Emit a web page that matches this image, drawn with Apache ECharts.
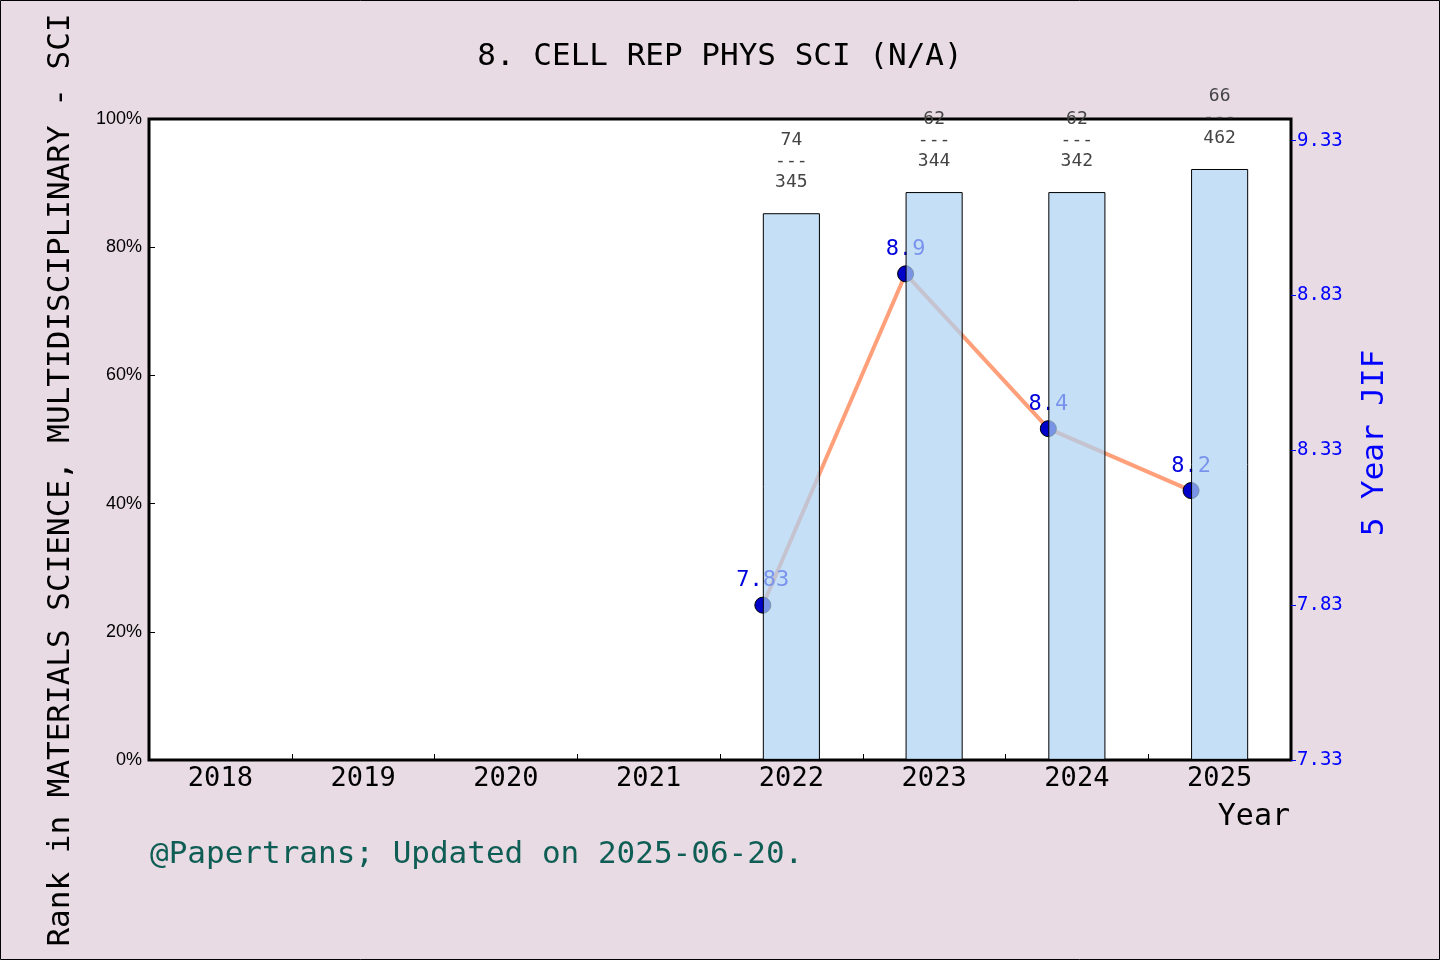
<!DOCTYPE html>
<html>
<head>
<meta charset="utf-8">
<title>CELL REP PHYS SCI</title>
<script src="https://cdn.jsdelivr.net/npm/echarts@6/dist/echarts.min.js"></script>
<style>
  html, body { margin: 0; padding: 0; }
  #chart { width: 1440px; height: 960px; }
</style>
</head>
<body>
<div id="chart"></div>
<script>
// data
const years = ['2018', '2019', '2020', '2021', '2022', '2023', '2024', '2025'];
const rankPct = [null, null, null, null, 85.3, 88.6, 88.6, 92.2];
const rankNo = [null, null, null, null, 74, 62, 62, 66];
const rankTotal = [null, null, null, null, 345, 344, 342, 462];
const jif5 = [null, null, null, null, 7.83, 8.9, 8.4, 8.2];
const jifTicks = [7.33, 7.83, 8.33, 8.83, 9.33];
const pctTicks = [0, 20, 40, 60, 80, 100];

const mono = '"DejaVu Sans Mono", monospace';
const barFrac = 0.4;

const jifVals = jif5.filter(v => v != null);
const jifMin = Math.min(...jifVals) - 0.5;
const jifMax = Math.max(...jifVals) + 0.5;

// line points sit on the left edge of each bar
const linePoints = jif5.map((v, i) => (v == null ? null : [i - barFrac / 2, v]));

const chart = echarts.init(document.getElementById('chart'));

const option = {
  backgroundColor: '#E9DBE3',
  animation: false,
  grid: {
    left: 149,
    right: 149,
    top: 119,
    bottom: 200,
    show: true,
    backgroundColor: '#fff',
    borderColor: '#000',
    borderWidth: 3,
    outerBoundsMode: 'none'
  },
  xAxis: [
    {
      type: 'category',
      data: years,
      axisLine: { show: false, onZero: false },
      axisTick: { show: true, inside: true, length: 6, lineStyle: { color: '#000', width: 1 } },
      axisLabel: { color: '#000', fontFamily: mono, fontSize: 27, margin: 5 },
      splitLine: { show: false }
    },
    {
      type: 'value',
      min: -0.5,
      max: years.length - 0.5,
      show: false
    }
  ],
  yAxis: [
    {
      type: 'value',
      position: 'left',
      min: pctTicks[0],
      max: pctTicks[pctTicks.length - 1],
      interval: 20,
      axisLine: { show: false, onZero: false },
      axisTick: { show: true, inside: true, length: 6, lineStyle: { color: '#000', width: 1 } },
      axisLabel: {
        color: '#000',
        fontFamily: '"Liberation Sans", Arial, sans-serif',
        fontSize: 18,
        margin: 7,
        formatter: '{value}%'
      },
      splitLine: { show: false }
    },
    {
      type: 'value',
      position: 'right',
      min: jifMin,
      max: jifMax,
      axisLine: { show: false, onZero: false },
      axisTick: {
        show: true,
        inside: false,
        length: 5,
        customValues: jifTicks,
        lineStyle: { color: '#0000FF', width: 1 }
      },
      axisLabel: {
        color: '#0000FF',
        fontFamily: mono,
        fontSize: 19,
        margin: 6,
        customValues: jifTicks,
        formatter: v => v.toFixed(2)
      },
      splitLine: { show: false }
    }
  ],
  series: [
    {
      name: '5 Year JIF',
      type: 'line',
      xAxisIndex: 1,
      yAxisIndex: 1,
      z: 2,
      data: linePoints,
      lineStyle: { color: '#FFA07A', width: 4 },
      symbol: 'circle',
      symbolSize: 16,
      itemStyle: { color: '#0000C8', borderColor: '#000', borderWidth: 1 },
      label: {
        show: true,
        position: 'top',
        distance: 5,
        color: '#0000DD',
        fontFamily: mono,
        fontSize: 22,
        formatter: p => String(p.value[1])
      }
    },
    {
      name: 'Rank',
      type: 'bar',
      xAxisIndex: 0,
      yAxisIndex: 0,
      z: 3,
      barWidth: barFrac * 100 + '%',
      data: rankPct,
      itemStyle: { color: 'rgba(172,210,243,0.7)', borderColor: '#000', borderWidth: 1 },
      label: {
        show: true,
        position: 'top',
        distance: 20,
        color: '#444',
        fontFamily: mono,
        fontSize: 18,
        lineHeight: 21,
        align: 'center',
        formatter: p => rankNo[p.dataIndex] + '\n---\n' + rankTotal[p.dataIndex]
      }
    }
  ],
  graphic: [
    {
      type: 'rect',
      silent: true,
      shape: { x: 0.5, y: 0.5, width: 1439, height: 959 },
      style: { fill: 'none', stroke: '#000', lineWidth: 1 }
    },
    {
      type: 'text',
      x: 720,
      y: 57,
      style: {
        text: '8. CELL REP PHYS SCI (N/A)',
        font: '31px ' + mono,
        fill: '#000',
        align: 'center',
        verticalAlign: 'middle'
      }
    },
    {
      type: 'text',
      x: 61,
      y: 480,
      rotation: Math.PI / 2,
      style: {
        text: 'Rank in MATERIALS SCIENCE, MULTIDISCIPLINARY - SCI',
        font: '31px ' + mono,
        fill: '#000',
        align: 'center',
        verticalAlign: 'middle'
      }
    },
    {
      type: 'text',
      x: 1375,
      y: 443,
      rotation: Math.PI / 2,
      style: {
        text: '5 Year JIF',
        font: '31px ' + mono,
        fill: '#0000FF',
        align: 'center',
        verticalAlign: 'middle'
      }
    },
    {
      type: 'text',
      x: 1290,
      y: 817,
      style: {
        text: 'Year',
        font: '30px ' + mono,
        fill: '#000',
        align: 'right',
        verticalAlign: 'middle'
      }
    },
    {
      type: 'text',
      x: 150,
      y: 855,
      style: {
        text: '@Papertrans; Updated on 2025-06-20.',
        font: '31px ' + mono,
        fill: '#0F5E55',
        align: 'left',
        verticalAlign: 'middle'
      }
    }
  ]
};

chart.setOption(option);
window.addEventListener('resize', () => chart.resize());
</script>
</body>
</html>
